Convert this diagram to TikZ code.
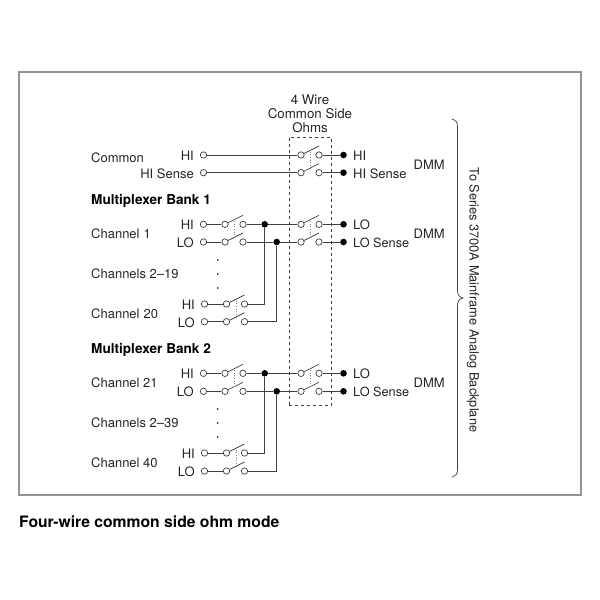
\documentclass[tikz,border=0pt]{standalone}
\usepackage{fontspec}
\setmainfont{TeX Gyre Heros}
\definecolor{wire}{gray}{0.25}
\definecolor{txt}{gray}{0.15}
\tikzset{
  x=1pt,y=-1pt,
  term/.style={circle,draw=wire,fill=white,line width=0.7pt,inner sep=0pt,minimum size=6.4pt},
  dotn/.style={circle,fill=black,draw=none,inner sep=0pt,minimum size=6.6pt},
  wireline/.style={draw=wire,line width=0.9pt},
  blade/.style={draw=wire,line width=0.75pt},
  link/.style={draw=gray,line width=0.7pt,dotted},
  lab/.style={inner sep=0pt,yshift=-0.8pt,font=\fontsize{13}{15}\selectfont,text=txt},
  labl/.style={lab,anchor=east},
  labr/.style={lab,anchor=west},
  labs/.style={lab,anchor=west,font=\fontsize{12.7}{15}\selectfont},
  head/.style={inner sep=0pt,yshift=-1pt,anchor=west,font=\fontsize{13.6}{15}\selectfont\bfseries,text=black},
  tiny/.style={circle,fill=black,inner sep=0pt,minimum size=1.7pt},
}
% \swpair{name}{x of left contact}{y1}{y2}: two ganged switches
\newcommand{\swpair}[4]{%
  \node[term] (#1a1) at (#2,#3) {};
  \node[term] (#1b1) at (#2+18,#3) {};
  \node[term] (#1a2) at (#2,#4) {};
  \node[term] (#1b2) at (#2+18,#4) {};
  \coordinate (#1t1) at (#2+18,#3-9);
  \coordinate (#1t2) at (#2+18,#4-9);
  \draw[blade] (#1a1) -- (#1t1);
  \draw[blade] (#1a2) -- (#1t2);
  \draw[link] (#2+9.5,#3-3.5) -- (#2+9.5,#4-4);
}
\begin{document}
\begin{tikzpicture}
\useasboundingbox (0,0) rectangle (600,600);
\fill[white] (0,0) rectangle (600,600);
\node[draw=gray!85,line width=1.2pt,minimum width=562pt,minimum height=423pt,inner sep=0pt] (frame) at (300,283.5) {};
\node[lab,align=center,anchor=north,font=\fontsize{13.3}{14}\selectfont] (title) at (310,93.5) {4 Wire\\Common Side\\Ohms};
\node[draw=wire,dashed,line width=0.8pt,minimum width=42.7pt,minimum height=268pt,inner sep=0pt] (cbox) at (310.3,271) {};

% Common
\node[labl] (lhi) at (194,155) {HI};
\node[labl] (lhis) at (194,172.7) {HI Sense};
\node[lab,anchor=west] (common) at (91,157) {Common};
\node[term] (chi) at (203.5,155) {};
\node[term] (chis) at (203.5,172.7) {};
\swpair{c}{301}{155}{172.7}
\draw[wireline] (chi) -- (ca1);
\draw[wireline] (chis) -- (ca2);
\node[dotn] (od1) at (343.5,155) {};
\node[dotn] (od2) at (343.5,172.7) {};
\draw[wireline] (cb1) -- (od1);
\draw[wireline] (cb2) -- (od2);
\node[labr] at (353,155) {HI};
\node[labr] at (353,172.7) {HI Sense};
\node[lab,anchor=west] at (413.5,163.5) {DMM};

% Bank 1
\node[head] at (91,200) {Multiplexer Bank 1};
\node[lab,anchor=west] at (91,232.5) {Channel\hspace{4pt}1};
\node[labl] at (194,224.3) {HI};
\node[labl] at (194,242) {LO};
\node[term] (bahi) at (203.5,224.3) {};
\node[term] (balo) at (203.5,242) {};
\swpair{s}{225}{224.3}{242}
\draw[wireline] (bahi) -- (sa1);
\draw[wireline] (balo) -- (sa2);
\swpair{m}{301}{224.3}{242}
\node[dotn] (j1) at (264.7,224.3) {};
\node[dotn] (j2) at (276.7,242) {};
\draw[wireline] (sb1) -- (j1) -- (ma1);
\draw[wireline] (sb2) -- (j2) -- (ma2);
\node[dotn] (od3) at (343.5,224.3) {};
\node[dotn] (od4) at (343.5,242) {};
\draw[wireline] (mb1) -- (od3);
\draw[wireline] (mb2) -- (od4);
\node[labr] at (353,224.3) {LO};
\node[labs] at (353,242) {LO Sense};
\node[lab,anchor=west] at (413.5,232.5) {DMM};

\node[lab,anchor=west] at (91,272.5) {Channels 2–19};
\node[tiny] at (217.7,260) {};
\node[tiny] at (217.7,274) {};
\node[tiny] at (217.7,288) {};

\node[lab,anchor=west] at (91,312.5) {Channel\hspace{4pt}20};
\node[labl] at (195,304) {HI};
\node[labl] at (195,321.7) {LO};
\node[term] (b20hi) at (204.5,304) {};
\node[term] (b20lo) at (204.5,321.7) {};
\swpair{u}{226.5}{304}{321.7}
\draw[wireline] (b20hi) -- (ua1);
\draw[wireline] (b20lo) -- (ua2);
\draw[wireline] (ub1) -| (j1);
\draw[wireline] (ub2) -| (j2);

% Bank 2
\node[head] at (91,349) {Multiplexer Bank 2};
\node[lab,anchor=west] at (91,382) {Channel 21};
\node[labl] at (194,373.3) {HI};
\node[labl] at (194,391.3) {LO};
\node[term] (b2hi) at (203.5,373.3) {};
\node[term] (b2lo) at (203.5,391.3) {};
\swpair{v}{225}{373.3}{391.3}
\draw[wireline] (b2hi) -- (va1);
\draw[wireline] (b2lo) -- (va2);
\swpair{n}{301}{373.3}{391.3}
\node[dotn] (k1) at (264.7,373.3) {};
\node[dotn] (k2) at (276.7,391.3) {};
\draw[wireline] (vb1) -- (k1) -- (na1);
\draw[wireline] (vb2) -- (k2) -- (na2);
\node[dotn] (od5) at (343.5,373.3) {};
\node[dotn] (od6) at (343.5,391.3) {};
\draw[wireline] (nb1) -- (od5);
\draw[wireline] (nb2) -- (od6);
\node[labr] at (353,373.3) {LO};
\node[labs] at (353,391.3) {LO Sense};
\node[lab,anchor=west] at (413.5,382) {DMM};

\node[lab,anchor=west] at (91,422) {Channels 2–39};
\node[tiny] at (217.7,409) {};
\node[tiny] at (217.7,423) {};
\node[tiny] at (217.7,437) {};

\node[lab,anchor=west] at (91,461.5) {Channel 40};
\node[labl] at (195,453) {HI};
\node[labl] at (195,471) {LO};
\node[term] (b40hi) at (204.5,453) {};
\node[term] (b40lo) at (204.5,471) {};
\swpair{w}{226.5}{453}{471}
\draw[wireline] (b40hi) -- (wa1);
\draw[wireline] (b40lo) -- (wa2);
\draw[wireline] (wb1) -| (k1);
\draw[wireline] (wb2) -| (k2);

% Brace
\draw[draw=wire,line width=0.7pt] (452,119) .. controls (456,120.5) and (457.5,122) .. (457.5,127)
  -- (457.5,290) .. controls (457.5,295) and (459,297) .. (463,298)
  .. controls (459,299) and (457.5,301) .. (457.5,306)
  -- (457.5,469) .. controls (457.5,474) and (456,475.5) .. (452,477);
\node[lab,rotate=-90,font=\fontsize{12.8}{15}\selectfont] (side) at (473,299) {To Series 3700A Mainframe Analog Backplane};

\node[inner sep=0pt,anchor=west,font=\fontsize{15.7}{18}\selectfont\bfseries,text=black] (cap) at (19,522) {Four-wire common side ohm mode};
\end{tikzpicture}
\end{document}
